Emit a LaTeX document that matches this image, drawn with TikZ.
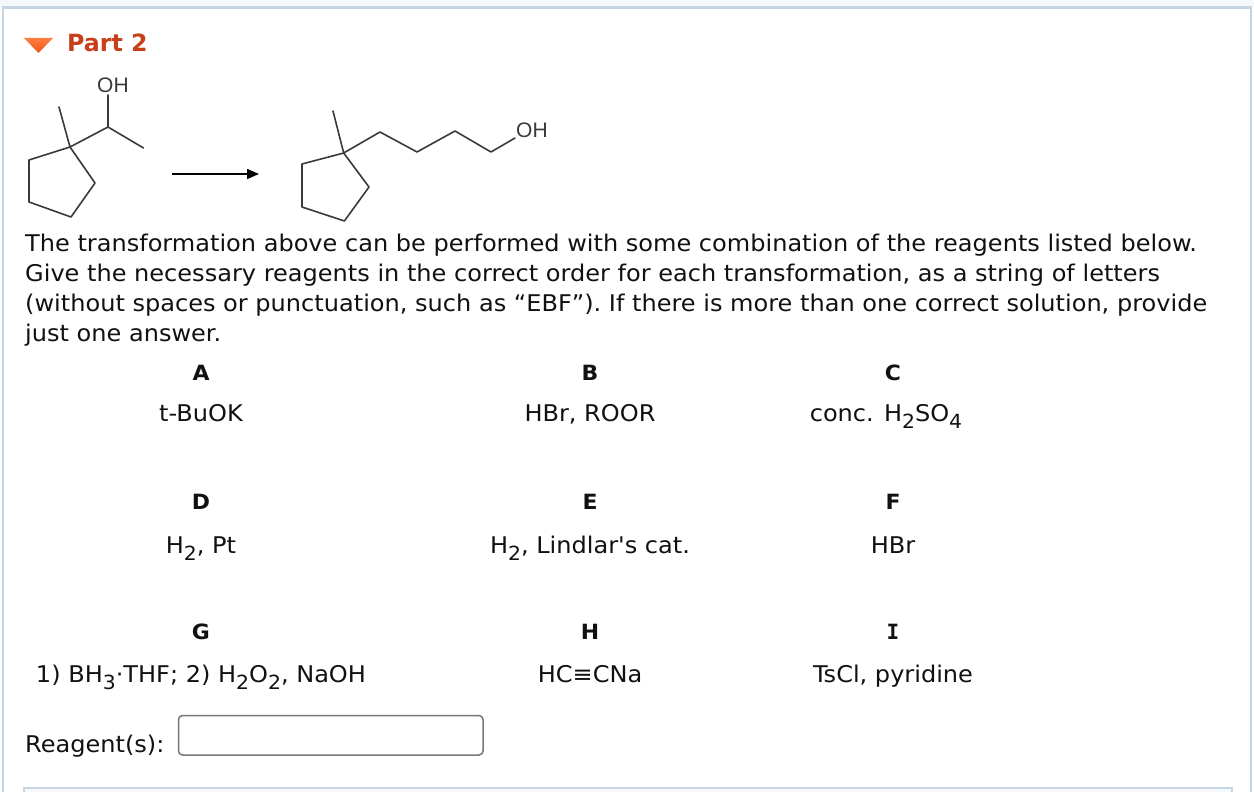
\documentclass[tikz,border=0pt]{standalone}
\usepackage{fontspec}
\setmainfont{DejaVu Sans}[Ligatures=TeXOff, FakeStretch=1.045]
\newfontfamily\partfont{DejaVu Sans}[Ligatures=TeXOff]
\newfontfamily\molfont{Liberation Sans}
\newfontfamily\monobold{DejaVu Sans Mono}[Ligatures=TeXOff]
\usetikzlibrary{arrows.meta}
\definecolor{framec}{HTML}{C7D4E2}
\definecolor{bandc}{HTML}{F4F8FB}
\definecolor{partc}{HTML}{C8401A}
\definecolor{trilight}{HTML}{FF7E3E}
\definecolor{tridark}{HTML}{EC5518}
\definecolor{bondc}{HTML}{3A3A3A}
\definecolor{boxc}{HTML}{777777}
\definecolor{txtc}{HTML}{111111}
\newcommand{\subs}[1]{\raisebox{-0.32em}{\fontsize{19.5}{19.5}\selectfont #1}}
\tikzset{
  bond/.style={draw=bondc, line width=1.6pt, line join=round, line cap=round},
  oh/.style={font=\molfont\fontsize{21}{21}\selectfont, text=bondc, inner sep=0pt},
  bodytext/.style={font=\fontsize{23}{30}\selectfont, text=txtc, inner sep=0pt, anchor=base west},
  letter/.style={font=\bfseries\fontsize{21}{21}\selectfont, text=txtc, inner sep=0pt, anchor=base},
  reag/.style={font=\fontsize{23}{26}\selectfont, text=txtc, inner sep=0pt, anchor=base},
}
\begin{document}
\begin{tikzpicture}[x=1pt,y=-1pt]
\useasboundingbox (0,0) rectangle (1254,792);
\clip (0,0) rectangle (1254,792);
% background and frame
\fill[white] (0,0) rectangle (1254,792);
\fill[bandc] (0,0) rectangle (1254,7);
\draw[framec, line width=2.5pt] (3,7.5) rectangle (1251,830);
\fill[bandc] (24,788) rectangle (1232,830);
\draw[framec, line width=2pt] (24,788) rectangle (1232,830);
% header
\shade[top color=trilight, bottom color=tridark] (24,38) -- (53,38) -- (38.5,53) -- cycle;
\node[font=\partfont\bfseries\fontsize{23.7}{24}\selectfont, text=partc, inner sep=0pt, anchor=base west] (part) at (67,52) {Part 2};
% molecule 1
\coordinate (q1) at (70,147);
\coordinate (r1a) at (29,160);
\coordinate (r1b) at (29,202);
\coordinate (r1c) at (71,217);
\coordinate (r1d) at (95,183);
\coordinate (m1) at (59,107);
\coordinate (c1) at (108,127);
\coordinate (c1m) at (143.5,148);
\coordinate (o1) at (108,95);
\draw[bond] (q1) -- (r1a) -- (r1b) -- (r1c) -- (r1d) -- cycle;
\draw[bond] (m1) -- (q1) -- (c1) -- (c1m);
\draw[bond] (c1) -- (o1);
\node[oh, anchor=south west] (oh1) at (97,93) {OH};
% arrow
\coordinate (a1) at (172,174);
\coordinate (a2) at (259,174);
\draw[draw=black, line width=1.5pt, -{Triangle[length=12pt,width=10pt]}] (a1) -- (a2);
% molecule 2
\coordinate (q2) at (343.7,153);
\coordinate (r2a) at (302,164);
\coordinate (r2b) at (302,207);
\coordinate (r2c) at (344.4,221);
\coordinate (r2d) at (369,187);
\coordinate (m2) at (333,111);
\coordinate (k1) at (380,132);
\coordinate (k2) at (417,152);
\coordinate (k3) at (455,131);
\coordinate (k4) at (491,152);
\coordinate (k5) at (515,138);
\draw[bond] (q2) -- (r2a) -- (r2b) -- (r2c) -- (r2d) -- cycle;
\draw[bond] (m2) -- (q2) -- (k1) -- (k2) -- (k3) -- (k4) -- (k5);
\node[oh, anchor=west] (oh2) at (516,130) {OH};
% paragraph
\node[bodytext] (l1) at (25,251) {The transformation above can be performed with some combination of the reagents listed below.};
\node[bodytext] (l2) at (25,281) {Give the necessary reagents in the correct order for each transformation, as a string of letters};
\node[bodytext] (l3) at (25,311) {(without spaces or punctuation, such as “EBF”). If there is more than one correct solution, provide};
\node[bodytext] (l4) at (25,341) {just one answer.};
% grid
\node[letter] (A) at (201,380) {A};
\node[letter] (B) at (590,380) {B};
\node[letter] (C) at (893,380) {C};
\node[reag] (rA) at (201,421) {t-BuOK};
\node[reag] (rB) at (590,421) {HBr, ROOR};
\node[reag] (rC) at (886,421) {conc. H\subs{2}SO\subs{4}};
\node[letter] (D) at (201,509) {D};
\node[letter] (E) at (590,509) {E};
\node[letter] (F) at (893,509) {F};
\node[reag] (rD) at (201,553) {H\subs{2}, Pt};
\node[reag] (rE) at (590,553) {H\subs{2}, Lindlar's cat.};
\node[reag] (rF) at (893,553) {HBr};
\node[letter] (G) at (201,639) {G};
\node[letter] (H) at (590,639) {H};
\node[letter, font=\monobold\bfseries\fontsize{21}{21}\selectfont] (I) at (893,639) {I};
\node[reag] (rG) at (201,682) {1) BH\subs{3}·THF; 2) H\subs{2}O\subs{2}, NaOH};
\node[reag] (rH) at (590,682) {HC≡CNa};
\node[reag] (rI) at (893,682) {TsCl, pyridine};
% answer
\node[bodytext] (lab) at (25,752) {Reagent(s):};
\draw[draw=boxc, line width=1.5pt, rounded corners=4pt] (178.5,715.5) rectangle (483,755) node[pos=0.5, inner sep=0pt] (ans) {};
\end{tikzpicture}
\end{document}
